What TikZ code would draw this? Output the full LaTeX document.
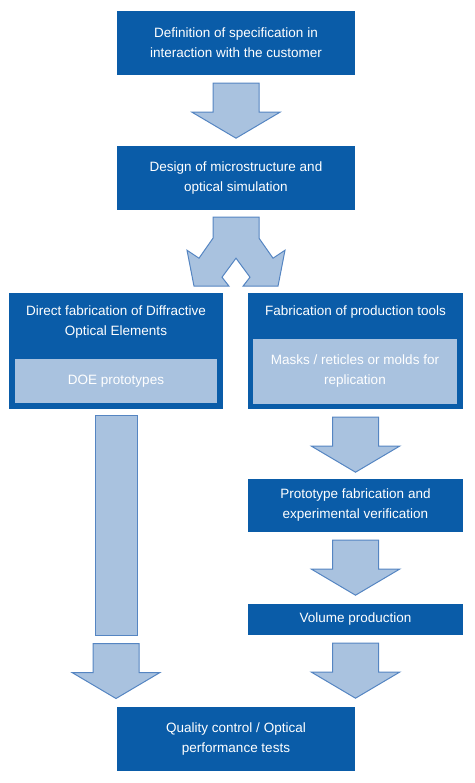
\documentclass[tikz,border=0pt]{standalone}
\usepackage{fontspec}
\setmainfont{Liberation Sans}
\definecolor{darkblue}{HTML}{0A5CA8}
\definecolor{paleblue}{HTML}{A9C2DF}
\definecolor{edgeblue}{HTML}{5585C2}
\begin{document}
\begin{tikzpicture}[x=1pt, y=-1pt, font=\fontsize{13.5}{20}\selectfont, line join=miter,
 box/.style={fill=darkblue, text=white, inner sep=0pt, align=center},
 sub/.style={fill=paleblue, text=white, inner sep=0pt, align=center},
 blk/.style={fill=paleblue, draw=edgeblue, line width=1pt}]
 \useasboundingbox (0,0) rectangle (474,783);
 % main column
 \node[box, minimum width=238pt, minimum height=64pt] (spec) at (236,43) {Definition of specification in\\interaction with the customer};
 \node[box, minimum width=238pt, minimum height=64pt] (design) at (236,178) {Design of microstructure and\\optical simulation};
 \node[box, minimum width=238pt, minimum height=64pt] (quality) at (236,739) {Quality control / Optical\\performance tests};
 % left branch
 \node[box, minimum width=214pt, minimum height=116pt] (direct) at (116,351) {};
 \node[text=white, align=center] (directtitle) at (116,322) {Direct fabrication of Diffractive\\Optical Elements};
 \node[sub, minimum width=202pt, minimum height=44pt] (doe) at (116,381) {DOE prototypes};
 \node[blk, minimum width=42pt, minimum height=220pt, inner sep=0pt] (bar) at (116,525) {};
 % right branch
 \node[box, minimum width=215pt, minimum height=116pt] (tools) at (355.5,351) {};
 \node[text=white] (toolstitle) at (355.5,312) {Fabrication of production tools};
 \node[sub, minimum width=204pt, minimum height=65pt] (masks) at (355,371) {Masks / reticles or molds for\\replication};
 \node[box, minimum width=215pt, minimum height=53pt] (proto) at (355.5,505.5) {Prototype fabrication and\\experimental verification};
 \node[box, minimum width=215pt, minimum height=31pt] (volume) at (355.5,619.5) {Volume production};
 % block arrows
 \foreach \n in {spec,tools,proto,volume,bar}
 \draw[blk, shift={(\n.south)}] (-23,8)--(23,8)--(23,37)--(44,37)--(0,63)--(-44,37)--(-23,37)--cycle;
 \draw[blk, shift={(design.south)}] (-23,7)--(23,7)--(23,28)--(37,48)--(49,40)--(42,76)--(7,76)--(14,67)
 --(0,48)--(-14,67)--(-7,76)--(-42,76)--(-49,40)--(-37,48)--(-23,28)--cycle;
\end{tikzpicture}
\end{document}
